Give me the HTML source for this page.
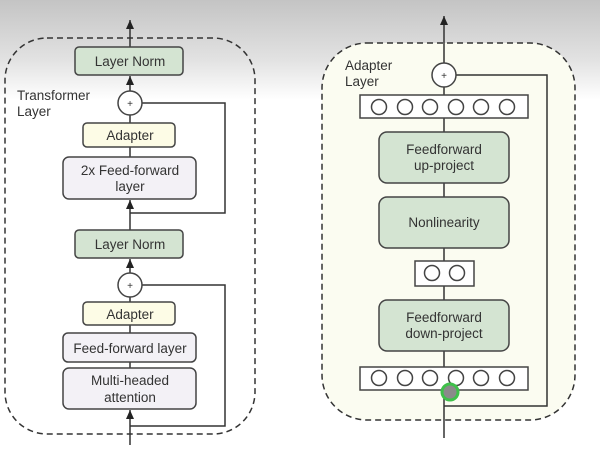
<!DOCTYPE html>
<html><head><style>
html{background:#fff;}
body{margin:0;width:600px;height:450px;overflow:hidden;background:linear-gradient(#c4c4c4 0px,#e2e2e2 60px,#fff 100px) no-repeat;background-size:600px 450px;}
svg{display:block;}
svg text{font-family:"Liberation Sans",sans-serif;fill:#333;}
</style></head><body>
<svg width="600" height="450" viewBox="0 0 600 450" xmlns="http://www.w3.org/2000/svg">
<defs><marker id="a" markerWidth="9" markerHeight="8" refX="9" refY="4" orient="auto" markerUnits="userSpaceOnUse"><path d="M0,0 L9,4 L0,8z" fill="#222"/></marker></defs>
<!-- left -->
<rect x="5" y="38" width="250" height="396" rx="42" fill="none" stroke="#333" stroke-width="1.5" stroke-dasharray="6,4"/>
<g stroke="#333" stroke-width="1.5" fill="none">
<line x1="130" y1="47" x2="130" y2="20" marker-end="url(#a)"/>
<line x1="130" y1="91" x2="130" y2="76" marker-end="url(#a)"/>
<line x1="130" y1="115" x2="130" y2="123"/>
<line x1="130" y1="147" x2="130" y2="157"/>
<line x1="130" y1="230" x2="130" y2="200" marker-end="url(#a)"/>
<polyline points="130,213 225,213 225,103 142,103"/>
<line x1="130" y1="273" x2="130" y2="259" marker-end="url(#a)"/>
<line x1="130" y1="297" x2="130" y2="302"/>
<line x1="130" y1="325" x2="130" y2="333"/>
<line x1="130" y1="362" x2="130" y2="368"/>
<line x1="130" y1="445" x2="130" y2="410" marker-end="url(#a)"/>
<polyline points="130,426 225,426 225,285 142,285"/>
</g>
<g stroke="#444" stroke-width="1.5">
<rect x="75" y="47" width="108" height="28" rx="4" fill="#d4e4d2"/>
<circle cx="130" cy="103" r="12" fill="#fff"/>
<rect x="83" y="123" width="92" height="24" rx="4" fill="#fdfce6"/>
<rect x="63" y="157" width="133" height="42" rx="6" fill="#f3f1f6"/>
<rect x="75" y="230" width="108" height="28" rx="4" fill="#d4e4d2"/>
<circle cx="130" cy="285" r="12" fill="#fff"/>
<rect x="83" y="302" width="92" height="23" rx="4" fill="#fdfce6"/>
<rect x="63" y="333" width="133" height="29" rx="5" fill="#f3f1f6"/>
<rect x="63" y="368" width="133" height="41" rx="6" fill="#f3f1f6"/>
</g>
<g font-size="13.5" text-anchor="middle">
<text x="130" y="66">Layer Norm</text>
<text x="130" y="107" font-size="10">+</text>
<text x="130" y="140">Adapter</text>
<text x="130" y="175">2x Feed-forward</text>
<text x="130" y="191">layer</text>
<text x="130" y="249">Layer Norm</text>
<text x="130" y="289" font-size="10">+</text>
<text x="130" y="319">Adapter</text>
<text x="130" y="353">Feed-forward layer</text>
<text x="130" y="385">Multi-headed</text>
<text x="130" y="402">attention</text>
</g>
<text x="17" y="100" font-size="13.5">Transformer</text>
<text x="17" y="116" font-size="13.5">Layer</text>
<!-- right -->
<rect x="322" y="43" width="253" height="377" rx="45" fill="#fbfcf1" stroke="#333" stroke-width="1.5" stroke-dasharray="6,4"/>
<g stroke="#333" stroke-width="1.5" fill="none">
<line x1="444" y1="63" x2="444" y2="16" marker-end="url(#a)"/>
<line x1="444" y1="87" x2="444" y2="95"/>
<line x1="444" y1="118" x2="444" y2="132"/>
<line x1="444" y1="183" x2="444" y2="197"/>
<line x1="444" y1="248" x2="444" y2="261"/>
<line x1="444" y1="286" x2="444" y2="300"/>
<line x1="444" y1="351" x2="444" y2="367"/>
<line x1="444" y1="390" x2="444" y2="438"/>
<polyline points="444,406 547,406 547,75 456,75"/>
</g>
<g stroke="#444" stroke-width="1.5">
<circle cx="444" cy="75" r="12" fill="#fff"/>
<rect x="360" y="95" width="168" height="23" fill="#fff"/>
<rect x="379" y="132" width="130" height="51" rx="8" fill="#d4e4d2"/>
<rect x="379" y="197" width="130" height="51" rx="8" fill="#d4e4d2"/>
<rect x="415" y="261" width="59" height="25" fill="#fff"/>
<rect x="379" y="300" width="130" height="51" rx="8" fill="#d4e4d2"/>
<rect x="360" y="367" width="168" height="23" fill="#fff"/>
<g fill="#fff">
<circle cx="379" cy="107" r="7.5"/><circle cx="405" cy="107" r="7.5"/><circle cx="430" cy="107" r="7.5"/><circle cx="456" cy="107" r="7.5"/><circle cx="481" cy="107" r="7.5"/><circle cx="507" cy="107" r="7.5"/>
<circle cx="432" cy="273" r="7.5"/><circle cx="457" cy="273" r="7.5"/>
<circle cx="379" cy="378" r="7.5"/><circle cx="405" cy="378" r="7.5"/><circle cx="430" cy="378" r="7.5"/><circle cx="456" cy="378" r="7.5"/><circle cx="481" cy="378" r="7.5"/><circle cx="507" cy="378" r="7.5"/>
</g>
</g>
<circle cx="450" cy="392" r="8" fill="#8a8a8a" stroke="#3fc04a" stroke-width="3"/>
<g font-size="13.5" text-anchor="middle">
<text x="444" y="79" font-size="10">+</text>
<text x="444" y="154">Feedforward</text>
<text x="444" y="170">up-project</text>
<text x="444" y="227">Nonlinearity</text>
<text x="444" y="322">Feedforward</text>
<text x="444" y="338">down-project</text>
</g>
<text x="345" y="70" font-size="13.5">Adapter</text>
<text x="345" y="86" font-size="13.5">Layer</text>
</svg>
</body></html>
